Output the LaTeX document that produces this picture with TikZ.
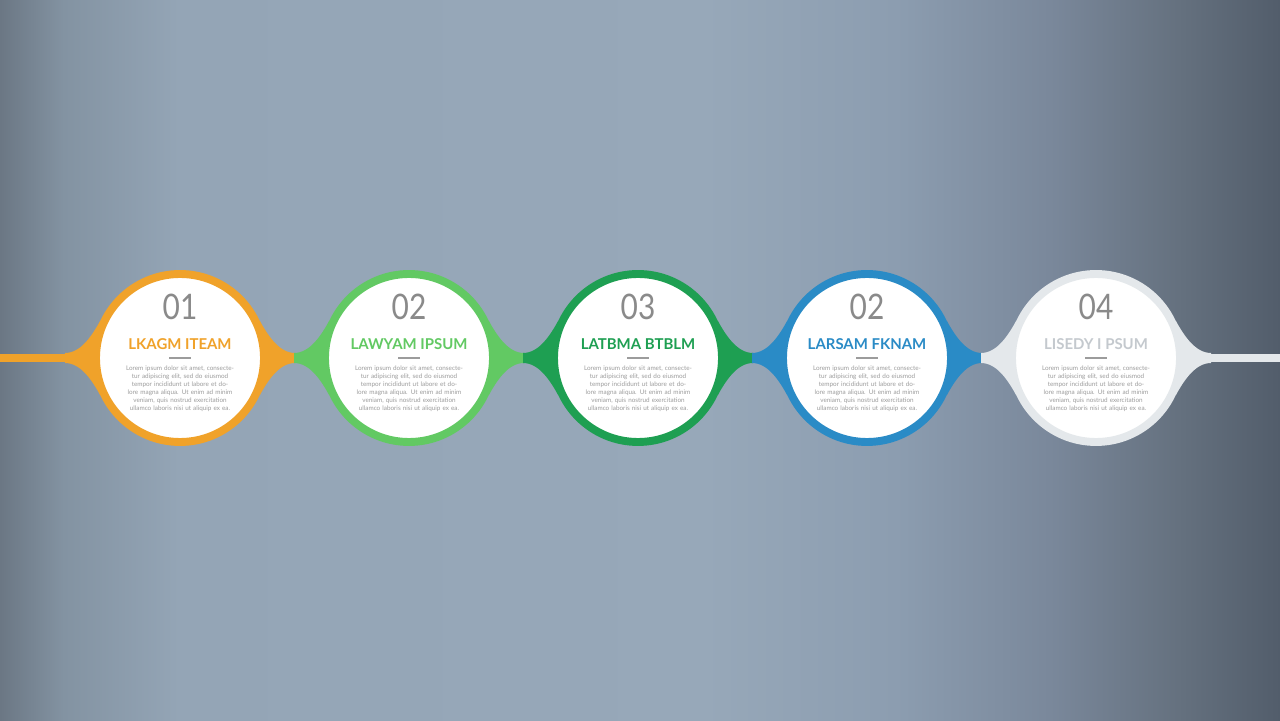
\documentclass[tikz,border=0pt]{standalone}
\usepackage{fontspec}
\setmainfont{Lato}
\usetikzlibrary{backgrounds}

\definecolor{bgA}{HTML}{6B7784}
\definecolor{bgB}{HTML}{8393A2}
\definecolor{bgC}{HTML}{94A5B6}
\definecolor{bgD}{HTML}{97A8B9}
\definecolor{bgE}{HTML}{8C9DB0}
\definecolor{bgF}{HTML}{7A889B}
\definecolor{bgG}{HTML}{65717F}
\definecolor{bgH}{HTML}{525D6B}
\definecolor{stepA}{HTML}{F0A22A}
\definecolor{stepB}{HTML}{62C963}
\definecolor{stepC}{HTML}{1E9F52}
\definecolor{stepD}{HTML}{2A8BC6}
\definecolor{stepE}{HTML}{E4E8EB}
\definecolor{titleE}{HTML}{C4C9CE}
\definecolor{numgray}{HTML}{8A8A8A}
\definecolor{txtgray}{HTML}{9C9C9C}

\pgfdeclarehorizontalshading{backdrop}{100bp}{color(0bp)=(bgA); color(25bp)=(bgA); color(27.5bp)=(bgB); color(32bp)=(bgC); color(52.5bp)=(bgD); color(60bp)=(bgE); color(66bp)=(bgF); color(71bp)=(bgG); color(75bp)=(bgH); color(100bp)=(bgH)}
\pgfdeclareradialshading{disc}{\pgfpoint{0bp}{0bp}}{color(0bp)=(white); color(38bp)=(white); color(46bp)=(black!8); color(50bp)=(black!22)}

\newcommand{\filltext}{Lorem ipsum dolor sit amet, consectetur adipiscing elit, sed do eiusmod tempor incididunt ut labore et dolore magna aliqua. Ut enim ad minim veniam, quis nostrud exercitation ullamco laboris nisi ut aliquip ex ea.}

\tikzset{
  stepnode/.style={circle, minimum size=3.36cm, inner sep=0pt, line width=4.5pt, shading=disc, draw=#1},
  numtext/.style={text=numgray, font=\fontsize{20}{20}\selectfont, xscale=0.85},
  titletext/.style={text=#1, font=\bfseries\fontsize{8.5}{9}\selectfont},
  dashline/.style={draw=txtgray, line width=0.8pt},
  bodytext/.style={text=txtgray, text width=2.3cm, align=center, inner sep=0pt, font=\fontsize{3.6}{4.6}\selectfont},
  link/.style={line width=5pt, draw=#1},
  flare/.pic={\fill (25:1.76) .. controls (1.76,0.45) and (1.98,0.1) .. (2.3,0.1) -- (2.3,-0.1) .. controls (1.98,-0.1) and (1.76,-0.45) .. (-25:1.76) -- cycle;}
}

\begin{document}
\begin{tikzpicture}[node distance=4.58cm]
\useasboundingbox (0,0) rectangle (25.6,14.4);
\coordinate (lend) at (0,7.24);
\coordinate (rend) at (25.6,7.24);

\node [stepnode=stepA] (s1) at (3.6,7.24) {};
\node [stepnode=stepB, right of=s1] (s2) {};
\node [stepnode=stepC, right of=s2] (s3) {};
\node [stepnode=stepD, right of=s3] (s4) {};
\node [stepnode=stepE, right of=s4] (s5) {};

\node [numtext] (n1) at ([yshift=1.02cm]s1.center) {01};
\node [numtext] (n2) at ([yshift=1.02cm]s2.center) {02};
\node [numtext] (n3) at ([yshift=1.02cm]s3.center) {03};
\node [numtext] (n4) at ([yshift=1.02cm]s4.center) {02};
\node [numtext] (n5) at ([yshift=1.02cm]s5.center) {04};

\node [titletext=stepA] (t1) at ([yshift=0.28cm]s1.center) {LKAGM ITEAM};
\node [titletext=stepB] (t2) at ([yshift=0.28cm]s2.center) {LAWYAM IPSUM};
\node [titletext=stepC] (t3) at ([yshift=0.28cm]s3.center) {LATBMA BTBLM};
\node [titletext=stepD] (t4) at ([yshift=0.28cm]s4.center) {LARSAM FKNAM};
\node [titletext=titleE] (t5) at ([yshift=0.28cm]s5.center) {LISEDY I PSUM};

\draw [dashline] ([xshift=-0.22cm]s1.center) -- ([xshift=0.22cm]s1.center);
\draw [dashline] ([xshift=-0.22cm]s2.center) -- ([xshift=0.22cm]s2.center);
\draw [dashline] ([xshift=-0.22cm]s3.center) -- ([xshift=0.22cm]s3.center);
\draw [dashline] ([xshift=-0.22cm]s4.center) -- ([xshift=0.22cm]s4.center);
\draw [dashline] ([xshift=-0.22cm]s5.center) -- ([xshift=0.22cm]s5.center);

\node [bodytext] (b1) at ([yshift=-0.62cm]s1.center) {\filltext};
\node [bodytext] (b2) at ([yshift=-0.62cm]s2.center) {\filltext};
\node [bodytext] (b3) at ([yshift=-0.62cm]s3.center) {\filltext};
\node [bodytext] (b4) at ([yshift=-0.62cm]s4.center) {\filltext};
\node [bodytext] (b5) at ([yshift=-0.62cm]s5.center) {\filltext};

\begin{scope}[on background layer]
\shade [shading=backdrop] (0,0) rectangle (25.6,14.4);
\draw [link=stepA] (lend) -- (s1);
\draw [link=stepB] (s1) -- (s2);
\draw [link=stepC] (s2) -- (s3);
\draw [link=stepD] (s3) -- (s4);
\draw [link=stepE] (s4) -- (s5);
\draw [link=stepE] (s5) -- (rend);
\pic [stepA, xscale=-1] at (s1) {flare};
\pic [stepA] at (s1) {flare};
\pic [stepB, xscale=-1] at (s2) {flare};
\pic [stepB] at (s2) {flare};
\pic [stepC, xscale=-1] at (s3) {flare};
\pic [stepC] at (s3) {flare};
\pic [stepD, xscale=-1] at (s4) {flare};
\pic [stepD] at (s4) {flare};
\pic [stepE, xscale=-1] at (s5) {flare};
\pic [stepE] at (s5) {flare};
\end{scope}
\end{tikzpicture}
\end{document}
